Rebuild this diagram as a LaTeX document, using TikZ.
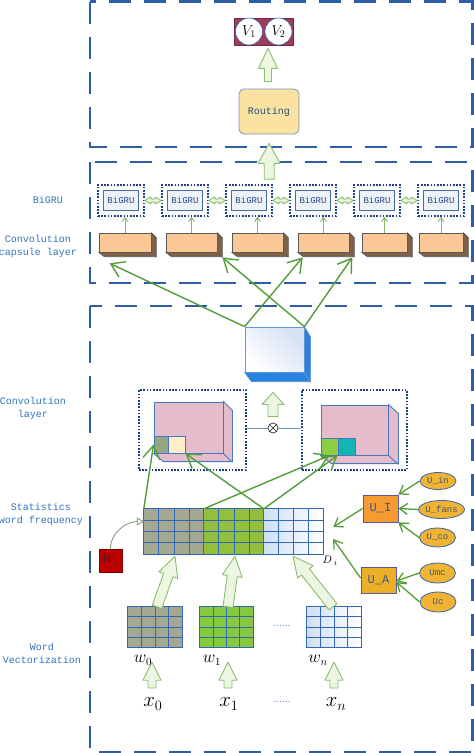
\documentclass[tikz,border=0pt]{standalone}
\usepackage{fontspec}
\newfontfamily\labfont{Liberation Mono}
\usetikzlibrary{arrows.meta,calc,shapes.geometric}
\definecolor{dashblue}{RGB}{46,94,166}
\definecolor{labblue}{RGB}{47,117,192}
\definecolor{arrgreen}{RGB}{84,158,58}
\definecolor{blkfill}{RGB}{236,246,226}
\definecolor{blkdraw}{RGB}{140,190,110}
\definecolor{capfront}{RGB}{250,200,150}
\definecolor{capside}{RGB}{125,98,72}
\definecolor{capline}{RGB}{90,90,90}
\definecolor{cubeside}{RGB}{40,130,225}
\definecolor{cubeface}{RGB}{196,212,240}
\definecolor{cubeline}{RGB}{100,150,210}
\definecolor{pinkf}{RGB}{230,188,205}
\definecolor{pinkline}{RGB}{70,120,190}
\definecolor{darksq}{RGB}{150,165,130}
\definecolor{yelsq}{RGB}{253,240,200}
\definecolor{grnsq}{RGB}{140,205,70}
\definecolor{tealsq}{RGB}{20,180,180}
\definecolor{gridgrey}{RGB}{165,168,145}
\definecolor{gridgreen}{RGB}{148,190,62}
\definecolor{wgreen}{RGB}{135,200,65}
\definecolor{gridline}{RGB}{45,105,180}
\definecolor{gridlb}{RGB}{208,223,245}
\definecolor{wcred}{RGB}{190,0,0}
\definecolor{uiorange}{RGB}{245,155,50}
\definecolor{uagold}{RGB}{235,175,40}
\definecolor{ellfill}{RGB}{240,180,50}
\definecolor{ellline}{RGB}{60,100,170}
\definecolor{utext}{RGB}{60,85,130}
\definecolor{routfill}{RGB}{250,226,160}
\definecolor{routline}{RGB}{120,150,195}
\definecolor{vfill}{RGB}{160,60,90}
\definecolor{dotblue}{RGB}{30,60,140}
\definecolor{bgline}{RGB}{70,110,170}
\definecolor{bgfill}{RGB}{238,243,250}
\definecolor{bgtext}{RGB}{40,75,125}
\definecolor{smallgreen}{RGB}{130,185,100}
\definecolor{curvegreen}{RGB}{120,150,110}

\newcommand\fatarrow[5]{%
  \coordinate (fa-a) at (#1);%
  \coordinate (fa-b) at (#2);%
  \pgfpointanchor{fa-a}{center}\pgfgetlastxy{\faax}{\faay}%
  \pgfpointanchor{fa-b}{center}\pgfgetlastxy{\fabx}{\faby}%
  \pgfmathsetmacro\faang{atan2(\faby-\faay,\fabx-\faax)}%
  \pgfmathsetmacro\falen{veclen(\fabx-\faax,\faby-\faay)}%
  \pgfmathsetmacro\faneck{\falen-#5}%
  \begin{scope}[shift={(fa-a)},rotate=\faang]
    \draw[fatarr] (0pt,-#3pt) -- (\faneck pt,-#3pt) -- (\faneck pt,-#4pt) -- (\falen pt,0pt) -- (\faneck pt,#4pt) -- (\faneck pt,#3pt) -- (0pt,#3pt) -- cycle;
  \end{scope}}

\newcommand\dblarrow[5]{%
  \coordinate (fa-a) at (#1);%
  \coordinate (fa-b) at (#2);%
  \pgfpointanchor{fa-a}{center}\pgfgetlastxy{\faax}{\faay}%
  \pgfpointanchor{fa-b}{center}\pgfgetlastxy{\fabx}{\faby}%
  \pgfmathsetmacro\faang{atan2(\faby-\faay,\fabx-\faax)}%
  \pgfmathsetmacro\falen{veclen(\fabx-\faax,\faby-\faay)}%
  \pgfmathsetmacro\faneck{\falen-#5}%
  \begin{scope}[shift={(fa-a)},rotate=\faang]
    \draw[fatarr] (0pt,0pt) -- (#5pt,#4pt) -- (#5pt,#3pt) -- (\faneck pt,#3pt) -- (\faneck pt,#4pt) -- (\falen pt,0pt) -- (\faneck pt,-#4pt) -- (\faneck pt,-#3pt) -- (#5pt,-#3pt) -- (#5pt,-#4pt) -- cycle;
  \end{scope}}

\newcommand\gridblk[6]{%
  \node[gridnode, minimum width=#4pt, minimum height=#5pt, #6] (#1) at (#2,#3) {};
  \foreach \f in {0.25,0.5,0.75}{
    \draw[gridln] ($(#1.north west)!\f!(#1.north east)$) -- ($(#1.south west)!\f!(#1.south east)$);
    \draw[gridln] ($(#1.north west)!\f!(#1.south west)$) -- ($(#1.north east)!\f!(#1.south east)$);
  }
  \draw[gridln] (#1.north west) rectangle (#1.south east);
}

\tikzset{
  dashbox/.style={draw=dashblue, line width=2.2pt, dash pattern=on 22pt off 13pt},
  lab/.style={text=labblue, font=\labfont\fontsize{10}{13.5}\selectfont, align=center, inner sep=0pt},
  fatarr/.style={draw=blkdraw, fill=blkfill, line width=0.9pt, line join=round},
  vbox/.style={fill=vfill, draw=vfill!70!black, line width=0.6pt, inner sep=0pt},
  vcirc/.style={circle, fill=white, draw=ellline, line width=0.6pt, inner sep=0pt, minimum size=27pt, font=\fontsize{14}{14}\selectfont},
  routbox/.style={rounded corners=5pt, fill=routfill, draw=routline, line width=0.8pt, inner sep=0pt, text=bgtext, font=\labfont\fontsize{10}{12}\selectfont},
  bgouter/.style={draw=dotblue, line width=1.6pt, dash pattern=on 1.6pt off 1.6pt, inner sep=0pt},
  bginner/.style={draw=bgline, line width=0.8pt, fill=bgfill, inner sep=0pt, text=bgtext, font=\labfont\fontsize{9}{10}\selectfont},
  capfr/.style={fill=capfront, draw=capline, line width=0.7pt, inner sep=0pt},
  capsd/.style={fill=capside, draw=capline, line width=0.7pt, line join=round},
  smallarr/.style={draw=smallgreen, line width=0.9pt, -{Straight Barb[length=4pt,width=6pt]}},
  convarr/.style={draw=arrgreen, line width=1.4pt, -{Straight Barb[length=13pt,width=17pt]}},
  uarr/.style={draw=arrgreen, line width=1.3pt, -{Straight Barb[length=8pt,width=11pt]}},
  cubefr/.style={draw=cubeline, line width=0.8pt, inner sep=0pt, top color=white, bottom color=cubeface!70, shading angle=135},
  cubesd/.style={fill=cubeside, draw=cubeline, line width=0.8pt, line join=round},
  convbox/.style={draw=dotblue, line width=1.6pt, dash pattern=on 1.6pt off 1.6pt, inner sep=0pt},
  pinkfr/.style={fill=pinkf, draw=pinkline, line width=0.9pt, inner sep=0pt},
  pinksd/.style={fill=pinkf, draw=pinkline, line width=0.9pt, line join=round},
  sqbox/.style={draw=pinkline, line width=0.9pt, inner sep=0pt},
  gridnode/.style={inner sep=0pt, draw=none},
  gridln/.style={draw=gridline, line width=1pt},
  ubox/.style={draw=gray!70!blue, line width=0.8pt, inner sep=0pt, text=utext, font=\labfont\fontsize{12}{12}\selectfont},
  uell/.style={ellipse, fill=ellfill, draw=ellline, line width=0.8pt, inner sep=0pt, text=utext, font=\labfont\fontsize{9}{9}\selectfont},
  curvearr/.style={draw=curvegreen, line width=0.8pt, -{Triangle[open,length=7pt,width=8pt]}},
  otline/.style={draw=cubeline, line width=1pt}
}

\begin{document}
\begin{tikzpicture}[x=1pt,y=-1pt]
\useasboundingbox (0,0) rectangle (474,753);
\fill[white] (0,0) rectangle (474,753);

% dashed frames
\draw[dashbox] (90,1.5) rectangle (472.5,147);
\draw[dashbox] (90,162) rectangle (472.5,283);
\draw[dashbox] (90,306) rectangle (472.5,752);

% left labels
\node[lab] (lbg) at (48,200) {BiGRU};
\node[lab] (lcc) at (38,246.5) {Convolution\\capsule layer};
\node[lab] (lcl) at (33,408.5) {Convolution\\layer};
\node[lab] (lsw) at (41,514.5) {Statistics\\word frequency};
\node[lab] (lwv) at (42,653.5) {Word\\Vectorization};

% ---------- top box
\node[vbox, minimum width=59pt, minimum height=27pt] (vv) at (263.5,31.5) {};
\node[vcirc] (v1) at (249,31.5) {$V_1$};
\node[vcirc] (v2) at (278.5,31.5) {$V_2$};
\node[routbox, minimum width=60pt, minimum height=45pt] (rout) at (269,111.5) {Routing};
\fatarrow{$(rout.north)+(-1,-7)$}{$(vv.south)+(4.5,3)$}{3.5}{9.5}{20}

% ---------- BiGRU box
\foreach \i/\cx in {1/121,2/185,3/249,4/313,5/377,6/441}{
  \node[bgouter, minimum width=46pt, minimum height=31pt] (bgo\i) at (\cx,200.5) {};
  \node[bginner, minimum width=35pt, minimum height=20pt] (bg\i) at (\cx,200.5) {BiGRU};
}
\foreach \i/\j in {1/2,2/3,3/4,4/5,5/6}{
  \dblarrow{bgo\i.east}{bgo\j.west}{1.6}{3.6}{6}
}
\foreach \i/\cx/\w in {1/125/52,2/191.5/51,3/257.5/51,4/323.5/51,5/384.5/45,6/441/44}{
  \node[capfr, minimum width=\w pt, minimum height=19pt] (cap\i) at (\cx,242.5) {};
  \draw[capsd] (cap\i.north east) -- ++(5,5) -- ++(0,19) -- ++(-\w,0) -- (cap\i.south west) -- (cap\i.south east) -- cycle;
  \draw[capline, line width=0.7pt] (cap\i.south east) -- ++(5,5);
  \draw[smallarr] (cap\i.north) -- (cap\i.north |- bgo\i.south);
}
\fatarrow{$(bgo3.north east)+(-3.5,-5)$}{$(rout.south)+(0,9)$}{5}{11}{20}

% ---------- convolution part
\node[cubefr, minimum width=59pt, minimum height=45pt] (cube) at (274.5,349.5) {};
\draw[cubesd] (cube.north east) -- ++(6,10) -- ++(0,45) -- ++(-59,0) -- (cube.south west) -- (cube.south east) -- cycle;
\draw[cubeline, line width=0.8pt] (cube.south east) -- ++(6,10);

\node[convbox, minimum width=107pt, minimum height=80pt] (cL) at (192.5,430) {};
\node[convbox, minimum width=105pt, minimum height=80pt] (cR) at (354.5,430) {};

\node[pinkfr, minimum width=69pt, minimum height=51pt] (pL) at (188.5,427.5) {};
\draw[pinksd] (pL.north east) -- ++(9,9) -- ++(0,51) -- ++(-69,0) -- (pL.south west) -- (pL.south east) -- cycle;
\draw[pinkline, line width=0.9pt] (pL.south east) -- ++(9,9);
\node[sqbox, fill=darksq, minimum width=14pt, minimum height=17pt] (sqd) at (161,444.5) {};
\node[sqbox, fill=yelsq, minimum width=17pt, minimum height=17pt] (sqy) at (176.5,444.5) {};

\node[pinkfr, minimum width=67pt, minimum height=50pt] (pR) at (354.5,430) {};
\draw[pinksd] (pR.north east) -- ++(10,9) -- ++(0,50) -- ++(-67,0) -- (pR.south west) -- (pR.south east) -- cycle;
\draw[pinkline, line width=0.9pt] (pR.south east) -- ++(10,9);
\node[sqbox, fill=grnsq, minimum width=17pt, minimum height=17pt] (sqg) at (329.5,446.5) {};
\node[sqbox, fill=tealsq, minimum width=17pt, minimum height=17pt] (sqt) at (346.5,446.5) {};

\node[circle, draw=black!80, line width=0.7pt, fill=white, inner sep=0pt, minimum size=10pt] (ot) at (273,428) {};
\draw[black!80, line width=0.7pt] (ot.north west) -- (ot.south east) (ot.north east) -- (ot.south west);
\draw[otline] (ot.west) -- (ot.west -| cL.east);
\draw[otline] (ot.east) -- (ot.east -| cR.west);
\fatarrow{$(ot.north)+(0,-6)$}{$(cube.south)+(-1.5,20)$}{5}{11}{12}

% ---------- word frequency matrix
\gridblk{mg}{174}{531.5}{60}{45}{fill=gridgrey}
\gridblk{mgr}{234}{531.5}{60}{45}{fill=gridgreen}
\gridblk{mw}{293.5}{531.5}{59}{45}{left color=gridlb, right color=white}

% word grids
\gridblk{wg0}{155}{627}{54}{40}{fill=gridgrey}
\gridblk{wg1}{226.5}{627}{53}{40}{fill=wgreen}
\gridblk{wgn}{334}{627}{54}{40}{left color=gridlb, right color=white}

\fatarrow{$(wg0.north)+(2,0)$}{$(mg.south)+(1,2)$}{5}{10}{20}
\fatarrow{$(wg1.north)+(1.5,0)$}{$(mgr.south)+(1,2)$}{5}{10}{20}
\fatarrow{$(wgn.north)+(-1,0)$}{$(mw.south)+(-0.5,2)$}{5}{10}{20}

\node[text=labblue, inner sep=0pt, font=\fontsize{10}{10}\selectfont] (dots1) at (282,626) {......};

% x inputs
\node[inner sep=0pt, font=\fontsize{20}{20}\selectfont] (x0) at (153,704) {$x_0$};
\node[inner sep=0pt, font=\fontsize{20}{20}\selectfont] (x1) at (229,704) {$x_1$};
\node[inner sep=0pt, font=\fontsize{20}{20}\selectfont] (xn) at (336,704) {$x_n$};
\node[text=labblue, inner sep=0pt, font=\fontsize{10}{10}\selectfont] (dots2) at (282,702) {......};
\fatarrow{$(x0)+(-1,-16)$}{$(wg0.south)+(-3,15)$}{4}{9}{18}
\fatarrow{$(x1)+(-1,-16)$}{$(wg1.south)+(1.5,15)$}{4}{9}{18}
\fatarrow{$(xn)+(-2,-16)$}{$(wgn.south)+(0,15)$}{4}{9}{18}
\node[inner sep=0pt, font=\fontsize{16}{16}\selectfont] (w0) at (143,660) {$w_0$};
\node[inner sep=0pt, font=\fontsize{16}{16}\selectfont] (w1) at (212,660) {$w_1$};
\node[inner sep=0pt, font=\fontsize{16}{16}\selectfont] (wn) at (318,660) {$w_n$};

% W_c
\node[draw=wcred!70!black, line width=0.6pt, fill=wcred, minimum width=23pt, minimum height=23pt, inner sep=0pt, text=black!85, font=\fontsize{13}{13}\selectfont] (wc) at (110.5,560.5) {$W_c$};
\draw[curvearr] (wc.north) to[out=90,in=180] ($(mg.west)+(0,-10)$);

% D_i
\node[inner sep=0pt, font=\fontsize{11}{11}\selectfont] (di) at (330,561) {$D_{\;i}$};

% user features
\node[ubox, fill=uiorange, minimum width=35pt, minimum height=27pt] (ui) at (380.5,508.5) {U\_I};
\node[ubox, fill=uagold, minimum width=35pt, minimum height=26pt] (ua) at (378.5,580) {U\_A};
\node[uell, minimum width=36pt, minimum height=17pt] (e1) at (438,481) {U\_in};
\node[uell, minimum width=43pt, minimum height=18pt] (e2) at (441.5,509.5) {U\_fans};
\node[uell, minimum width=36pt, minimum height=19pt] (e3) at (437.5,537.5) {U\_co};
\node[uell, minimum width=36pt, minimum height=20pt] (e4) at (437.5,573) {Umc};
\node[uell, minimum width=36pt, minimum height=20pt] (e5) at (438,602) {Uc};
\draw[uarr] (e1.west) -- (ui.north east);
\draw[uarr] (e2.west) -- (ui.east);
\draw[uarr] (e3.west) -- (ui.south east);
\draw[uarr] (e4.west) -- ($(ua.east)+(0,1)$);
\draw[uarr] (e5.west) -- ($(ua.east)+(0,2)$);
\draw[uarr] (ui.west) -- ($(mw.east)+(10,-4.5)$);
\draw[uarr] ($(ua.west)+(0,-2)$) -- ($(mw.east)+(10,7.5)$);

% matrix -> convolution arrows
\draw[convarr] (mg.north west) -- (sqd.west);
\draw[convarr] (mw.north west) -- (sqy.south east);
\draw[convarr] (mgr.north west) -- (sqg.south);
\draw[convarr] (mw.north west) -- (sqt.south west);

% cube -> capsules arrows
\draw[convarr] (cube.north west) -- ($(cap1.south west)+(11,11)$);
\draw[convarr] (cube.north west) -- ($(cap4.south west)+(5,5)$);
\draw[convarr] (cube.north east) -- ($(cap2.south east)+(5,5)$);
\draw[convarr] (cube.north east) -- ($(cap4.south east)+(3,5)$);
\end{tikzpicture}
\end{document}
